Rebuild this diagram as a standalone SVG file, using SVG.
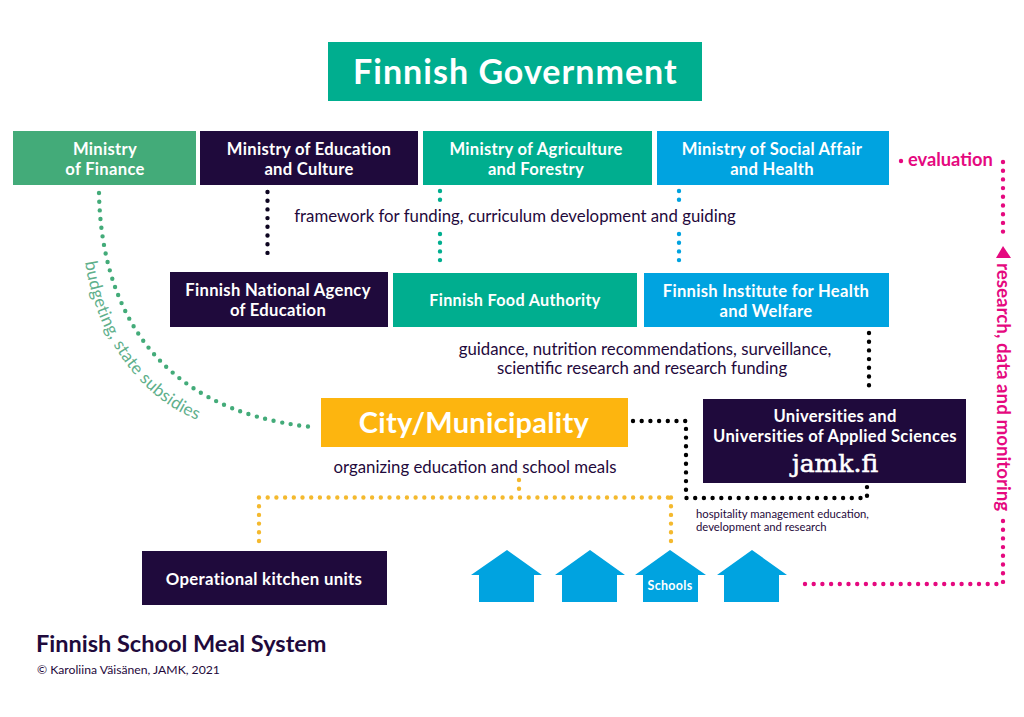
<svg xmlns="http://www.w3.org/2000/svg" width="1024" height="717" viewBox="0 0 1024 717">
<style>
text{font-family:"Lato","Liberation Sans",sans-serif;}
.b{font-weight:700;fill:#fff;font-size:16.6px;text-anchor:middle;letter-spacing:.3px}
.d{fill:none;stroke-width:4.4;stroke-linecap:round;stroke-dasharray:0 8.7}
.t{font-size:16.8px;fill:#1f0a3c;text-anchor:middle}
.teal{fill:#00ae8f}.navy{fill:#1f0a3c}.blue{fill:#00a3e0}
</style>
<rect width="1024" height="717" fill="#fff"/>
<g id="connectors">
<path class="d" stroke="#43ab79" d="M99,193C101,300 150,410 312,427"/>
<path class="d" stroke="#0d0520" d="M267.500,192V261"/>
<path class="d" stroke="#00ae8f" d="M440,191V201M440,234V261"/>
<path class="d" stroke="#00a3e0" d="M679,191V201M679,234V261"/>
<path class="d" stroke="#000" d="M869,333V392"/>
<path class="d" stroke="#000" d="M633,421H686V498H867V480"/>
<path class="d" stroke="#f4b92e" d="M519,480V497M259,497.500H671M259,497.500V544M671,497.500V544"/>
<path class="d" stroke="#e5097f" d="M805,584H1003V514"/>
<path class="d" stroke="#e5097f" d="M1003,162V240"/>
<circle cx="901" cy="161" r="2.200" fill="#e5097f"/>
<polygon points="1003,246 1011,258 996,258" fill="#e5097f"/>
</g>
<defs><path id="arc" d="M85,262C95,330 135,400 208,424"/></defs>
<text font-size="17.300" fill="#5fb08c" letter-spacing=".3"><textPath href="#arc">budgeting, state subsidies</textPath></text>
<g id="gov"><rect x="328" y="42" width="374" height="59" class="teal"/><text x="515" y="84" class="b" style="font-size:34px" textLength="324">Finnish Government</text></g>
<g id="finance"><rect x="13" y="131" width="183" height="54" fill="#43ab79"/><text x="105" y="155" class="b">Ministry</text><text x="105" y="175" class="b">of Finance</text></g>
<g id="education"><rect x="200" y="131" width="218" height="54" class="navy"/><text x="309" y="155" class="b">Ministry of Education</text><text x="309" y="175" class="b">and Culture</text></g>
<g id="agriculture"><rect x="423" y="131" width="229" height="54" class="teal"/><text x="536" y="155" class="b">Ministry of Agriculture</text><text x="536" y="175" class="b">and Forestry</text></g>
<g id="social"><rect x="657" y="131" width="232" height="54" class="blue"/><text x="772" y="155" class="b">Ministry of Social Affair</text><text x="772" y="175" class="b">and Health</text></g>
<g id="agency"><rect x="170" y="272" width="218" height="55" class="navy"/><text x="278" y="296" class="b">Finnish National Agency</text><text x="278" y="316" class="b">of Education</text></g>
<g id="food"><rect x="393" y="273" width="244" height="54" class="teal"/><text x="515" y="306" class="b" style="font-size:16.2px">Finnish Food Authority</text></g>
<g id="institute"><rect x="644" y="273" width="245" height="54" class="blue"/><text x="766" y="297" class="b">Finnish Institute for Health</text><text x="766" y="317" class="b">and Welfare</text></g>
<g id="city"><rect x="321" y="398" width="307" height="49" fill="#fdb50f"/><text x="474" y="433" class="b" style="font-size:29px">City/Municipality</text></g>
<g id="universities"><rect x="703" y="399" width="263" height="84" class="navy"/><text x="835" y="422" class="b">Universities and</text><text x="835" y="442" class="b">Universities of Applied Sciences</text><text x="835" y="472" text-anchor="middle" font-size="25" fill="#fff" stroke="#fff" stroke-width=".6" style="font-family:'DejaVu Serif','Liberation Serif',serif">jamk.fi</text></g>
<g id="kitchen"><rect x="142" y="551" width="245" height="54" class="navy"/><text x="264" y="585" class="b" style="font-size:16.8px">Operational kitchen units</text></g>
<g id="school1"><polygon class="blue" points="507,550 542,575 534,575 534,602 479,602 479,575 471,575"/></g>
<g id="school2"><polygon class="blue" points="590,550 625,575 617,575 617,602 562,602 562,575 555,575"/></g>
<g id="school3"><polygon class="blue" points="670,550 706,575 698,575 698,602 643,602 643,575 635,575"/><text x="670" y="590" class="b" style="font-size:12.5px">Schools</text></g>
<g id="school4"><polygon class="blue" points="752,550 787,575 779,575 779,602 724,602 724,575 717,575"/></g>
<g id="labels">
<text x="515" y="222" class="t">framework for funding, curriculum development and guiding</text>
<text x="645" y="355" class="t">guidance, nutrition recommendations, surveillance,</text>
<text x="642" y="374" class="t">scientific research and research funding</text>
<text x="475" y="473" class="t">organizing education and school meals</text>
<text x="696" y="518" font-size="11.300" fill="#1f0a3c">hospitality management education,</text>
<text x="696" y="531" font-size="11.300" fill="#1f0a3c">development and research</text>
<text x="908" y="166" font-size="18.300" font-weight="700" fill="#e5097f">evaluation</text>
<text transform="translate(997,263) rotate(90)" font-size="18.800" font-weight="700" fill="#e5097f">research, data and monitoring</text>
<text x="36" y="652" font-size="23.500" font-weight="700" fill="#1f0a3c">Finnish School Meal System</text>
<text x="37" y="674" font-size="12.200" fill="#1f0a3c">© Karoliina Väisänen, JAMK, 2021</text>
</g>
</svg>
